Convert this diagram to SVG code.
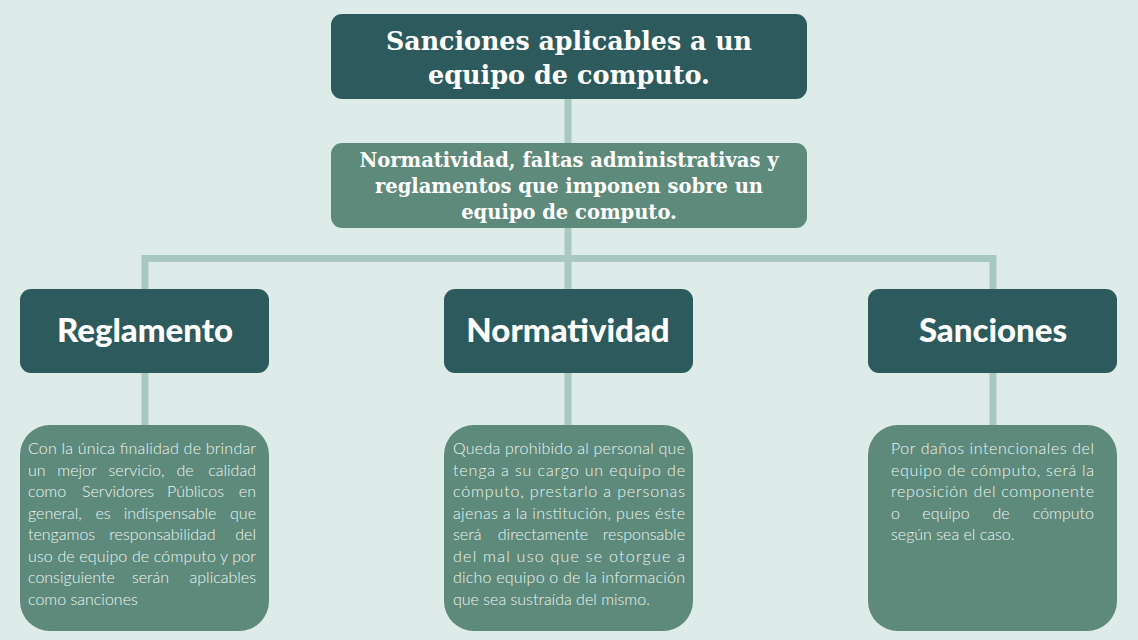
<svg xmlns="http://www.w3.org/2000/svg" width="1138" height="640" viewBox="0 0 1138 640">
<style>
.dark{fill:#2d5b5d}
.mid{fill:#5e8a7c}
.ln{stroke:#a9c8c0;stroke-width:7;fill:none}
.t1{font-family:"DejaVu Serif","Liberation Serif",serif;font-weight:bold;fill:#ffffff;text-anchor:middle}
.h{font-family:"Lato","DejaVu Sans",sans-serif;font-weight:900;fill:#ffffff;text-anchor:middle;font-size:33px}
.b{font-family:"Lato","Open Sans",sans-serif;font-weight:300;fill:#eef4f1;font-size:16px}
.e{text-anchor:end}
.m{text-anchor:middle}
</style>
<rect width="1138" height="640" fill="#ddece8"/>
<g id="connectors">
<path class="ln" d="M568 99V143M568 228V289M145 289V258.5H993V289M145 373V425M568 373V425M993 373V425"/>
</g>
<g id="title">
<rect class="dark" x="331" y="14" width="476" height="85" rx="11"/>
<text class="t1" font-size="25.5" x="569" y="50" textLength="366" lengthAdjust="spacingAndGlyphs">Sanciones aplicables a un</text>
<text class="t1" font-size="25.5" x="569" y="84">equipo de computo.</text>
</g>
<g id="sub">
<rect class="mid" x="331" y="143" width="476" height="85" rx="11"/>
<text class="t1" font-size="19.5" x="569" y="167">Normatividad, faltas administrativas y</text>
<text class="t1" font-size="19.5" x="569" y="193">reglamentos que imponen sobre un</text>
<text class="t1" font-size="19.5" x="569" y="219">equipo de computo.</text>
</g>
<g id="reglamento">
<rect class="dark" x="20" y="289" width="249" height="84" rx="11"/>
<text class="h" x="145" y="342">Reglamento</text>
</g>
<g id="normatividad">
<rect class="dark" x="444" y="289" width="249" height="84" rx="11"/>
<text class="h" x="568" y="342">Normatividad</text>
</g>
<g id="sanciones">
<rect class="dark" x="868" y="289" width="249" height="84" rx="11"/>
<text class="h" x="993" y="342">Sanciones</text>
</g>
<g id="reglamento-text">
<rect class="mid" x="20" y="425" width="249" height="206" rx="30"/>
<text class="b" x="28" y="454" textLength="228" lengthAdjust="spacing">Con la única finalidad de brindar</text>
<text class="b" x="28" y="475.5">un</text><text class="b m" x="77" y="475.5">mejor</text><text class="b m" x="136.5" y="475.5">servicio,</text><text class="b m" x="185" y="475.5">de</text><text class="b e" x="256" y="475.5">calidad</text>
<text class="b" x="28" y="497">como</text><text class="b m" x="118" y="497">Servidores</text><text class="b m" x="195.5" y="497">Públicos</text><text class="b e" x="256" y="497">en</text>
<text class="b" x="28" y="518.5">general,</text><text class="b m" x="103" y="518.5">es</text><text class="b m" x="170" y="518.5">indispensable</text><text class="b e" x="256" y="518.5">que</text>
<text class="b" x="28" y="540">tengamos</text><text class="b m" x="162.5" y="540">responsabilidad</text><text class="b e" x="256" y="540">del</text>
<text class="b" x="28" y="561.5" textLength="228" lengthAdjust="spacing">uso de equipo de cómputo y por</text>
<text class="b" x="28" y="583">consiguiente</text><text class="b m" x="150.5" y="583">serán</text><text class="b e" x="256" y="583">aplicables</text>
<text class="b" x="28" y="604.5">como sanciones</text>
</g>
<g id="normatividad-text">
<rect class="mid" x="444" y="425" width="249" height="206" rx="30"/>
<text class="b" x="453" y="454" textLength="232" lengthAdjust="spacing">Queda prohibido al personal que</text>
<text class="b" x="453" y="475.5" textLength="232" lengthAdjust="spacing">tenga a su cargo un equipo de</text>
<text class="b" x="453" y="497" textLength="232" lengthAdjust="spacing">cómputo, prestarlo a personas</text>
<text class="b" x="453" y="518.5" textLength="232" lengthAdjust="spacing">ajenas a la institución, pues éste</text>
<text class="b" x="453" y="540">será</text><text class="b m" x="543" y="540">directamente</text><text class="b e" x="685" y="540">responsable</text>
<text class="b" x="453" y="561.5" textLength="232" lengthAdjust="spacing">del mal uso que se otorgue a</text>
<text class="b" x="453" y="583" textLength="232" lengthAdjust="spacing">dicho equipo o de la información</text>
<text class="b" x="453" y="604.5">que sea sustraída del mismo.</text>
</g>
<g id="sanciones-text">
<rect class="mid" x="868" y="425" width="249" height="206" rx="30"/>
<text class="b" x="891" y="454" textLength="203" lengthAdjust="spacing">Por daños intencionales del</text>
<text class="b" x="891" y="475.5" textLength="203" lengthAdjust="spacing">equipo de cómputo, será la</text>
<text class="b" x="891" y="497" textLength="203" lengthAdjust="spacing">reposición del componente</text>
<text class="b" x="891" y="518.5">o</text><text class="b m" x="946" y="518.5">equipo</text><text class="b m" x="1001" y="518.5">de</text><text class="b e" x="1094" y="518.5">cómputo</text>
<text class="b" x="891" y="540">según sea el caso.</text>
</g>
</svg>
